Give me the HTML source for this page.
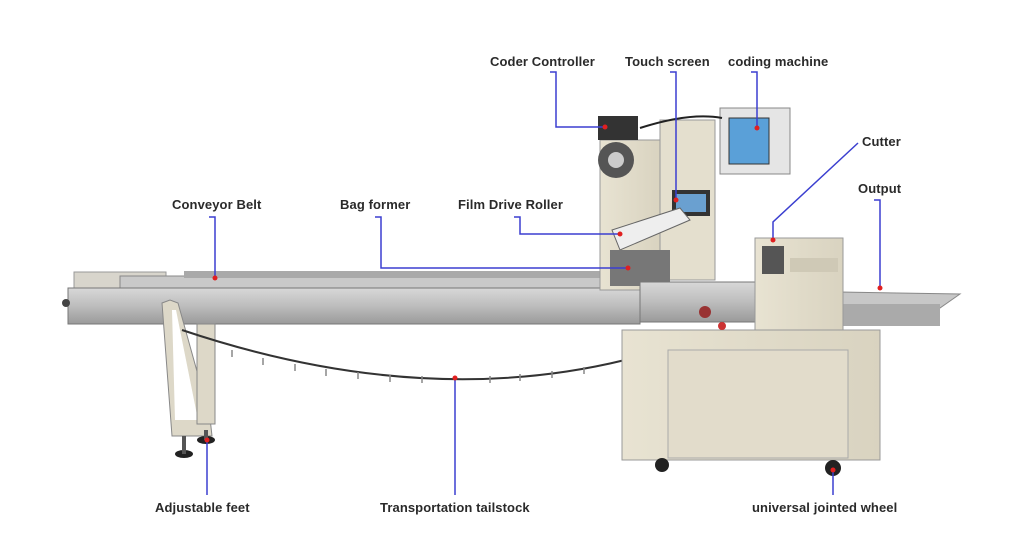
<!DOCTYPE html>
<html><head><meta charset="utf-8"><style>
body{margin:0;width:1024px;height:536px;background:#fff;overflow:hidden;position:relative;font-family:"Liberation Sans",sans-serif}
.t{position:absolute;font-size:13px;color:#2a2a2a;font-weight:bold;white-space:nowrap;letter-spacing:0.1px}
svg{position:absolute;left:0;top:0}
</style></head><body>
<svg width="1024" height="536" viewBox="0 0 1024 536">
<defs>
<linearGradient id="steel" x1="0" y1="0" x2="0" y2="1"><stop offset="0" stop-color="#d8d8d8"/><stop offset="0.5" stop-color="#bdbdbd"/><stop offset="1" stop-color="#9a9a9a"/></linearGradient>
<linearGradient id="beige" x1="0" y1="0" x2="1" y2="0"><stop offset="0" stop-color="#e8e3d2"/><stop offset="1" stop-color="#d9d3c0"/></linearGradient>
</defs>
<!-- left feed table -->
<rect x="74" y="272" width="92" height="18" fill="#d8d5cc" stroke="#999"/>
<!-- conveyor -->
<rect x="120" y="276" width="520" height="12" fill="#c9c9c9" stroke="#888"/>
<rect x="184" y="271" width="440" height="7" fill="#a9a9a9"/>
<rect x="68" y="288" width="572" height="36" fill="url(#steel)" stroke="#777"/>
<circle cx="66" cy="303" r="4" fill="#444"/>
<!-- legs -->
<polygon points="162,303 170,300 178,303 210,418 212,436 172,436" fill="#ddd8c8" stroke="#888"/>
<polygon points="172,310 176,310 198,420 175,420" fill="#fff"/>
<rect x="197" y="324" width="18" height="100" fill="#ddd8c8" stroke="#888"/>
<ellipse cx="184" cy="454" rx="9" ry="4" fill="#222"/><rect x="182" y="436" width="4" height="18" fill="#555"/>
<ellipse cx="206" cy="440" rx="9" ry="4" fill="#222"/><rect x="204" y="430" width="4" height="10" fill="#555"/>
<!-- chain -->
<path d="M182,330 Q420,410 625,360" fill="none" stroke="#333" stroke-width="2"/>
<g stroke="#888" stroke-width="1.5">
<line x1="232" y1="350" x2="232" y2="357"/><line x1="263" y1="358" x2="263" y2="365"/><line x1="295" y1="364" x2="295" y2="371"/><line x1="326" y1="369" x2="326" y2="376"/><line x1="358" y1="372" x2="358" y2="379"/><line x1="390" y1="375" x2="390" y2="382"/><line x1="422" y1="376" x2="422" y2="383"/><line x1="490" y1="376" x2="490" y2="383"/><line x1="520" y1="374" x2="520" y2="381"/><line x1="552" y1="371" x2="552" y2="378"/><line x1="584" y1="367" x2="584" y2="374"/>
</g>
<!-- column -->
<rect x="600" y="140" width="60" height="150" fill="url(#beige)" stroke="#999"/>
<rect x="660" y="120" width="55" height="160" fill="#e4dfce" stroke="#999"/>
<circle cx="616" cy="160" r="18" fill="#555"/><circle cx="616" cy="160" r="8" fill="#ccc"/>
<rect x="598" y="116" width="40" height="24" fill="#333"/>
<rect x="672" y="190" width="38" height="26" fill="#333"/><rect x="676" y="194" width="30" height="18" fill="#6aa0d0"/>
<polygon points="612,230 680,208 690,220 620,250" fill="#eee" stroke="#666"/>
<rect x="610" y="250" width="60" height="36" fill="#777"/>
<!-- coding machine -->
<rect x="720" y="108" width="70" height="66" fill="#e5e5e5" stroke="#888"/>
<rect x="729" y="118" width="40" height="46" fill="#5aa0d8" stroke="#333"/>
<path d="M640,128 Q690,112 722,118" fill="none" stroke="#222" stroke-width="2"/>
<!-- right section -->
<rect x="640" y="282" width="200" height="40" fill="url(#steel)" stroke="#777"/>
<polygon points="840,292 960,294 940,308 840,318" fill="#c7c7c7" stroke="#888"/>
<rect x="840" y="304" width="100" height="22" fill="#aaa"/>
<rect x="755" y="238" width="88" height="96" fill="url(#beige)" stroke="#999"/>
<rect x="762" y="246" width="22" height="28" fill="#555"/>
<rect x="790" y="258" width="48" height="14" fill="#cfc9b6"/>
<!-- cabinet -->
<rect x="622" y="330" width="258" height="130" fill="url(#beige)" stroke="#999"/>
<rect x="668" y="350" width="180" height="108" fill="#e2dccb" stroke="#aaa"/>
<circle cx="705" cy="312" r="6" fill="#933"/><circle cx="722" cy="326" r="4" fill="#c33"/>
<circle cx="662" cy="465" r="7" fill="#222"/><circle cx="833" cy="468" r="8" fill="#222"/>
<!-- leader lines -->
<g stroke="#3b3fd0" stroke-width="1.5" fill="none">
<polyline points="550,72 556,72 556,127 605,127"/>
<polyline points="670,72 676,72 676,200"/>
<polyline points="751,72 757,72 757,128"/>
<polyline points="858,143 773,222 773,240"/>
<polyline points="874,200 880,200 880,288"/>
<polyline points="209,217 215,217 215,278"/>
<polyline points="375,217 381,217 381,268 628,268"/>
<polyline points="514,217 520,217 520,234 620,234"/>
<polyline points="207,495 207,440"/>
<polyline points="455,495 455,378"/>
<polyline points="833,495 833,470"/>
</g>
<g fill="#e02020">
<circle cx="605" cy="127" r="2.5"/><circle cx="676" cy="200" r="2.5"/><circle cx="757" cy="128" r="2.5"/>
<circle cx="773" cy="240" r="2.5"/><circle cx="880" cy="288" r="2.5"/><circle cx="215" cy="278" r="2.5"/>
<circle cx="628" cy="268" r="2.5"/><circle cx="620" cy="234" r="2.5"/><circle cx="207" cy="440" r="2.5"/>
<circle cx="455" cy="378" r="2.5"/><circle cx="833" cy="470" r="2.5"/>
</g>
</svg>
<div class="t" style="left:490px;top:54px">Coder Controller</div>
<div class="t" style="left:625px;top:54px">Touch screen</div>
<div class="t" style="left:728px;top:54px">coding machine</div>
<div class="t" style="left:862px;top:134px">Cutter</div>
<div class="t" style="left:858px;top:181px">Output</div>
<div class="t" style="left:172px;top:197px">Conveyor Belt</div>
<div class="t" style="left:340px;top:197px">Bag former</div>
<div class="t" style="left:458px;top:197px">Film Drive Roller</div>
<div class="t" style="left:155px;top:500px">Adjustable feet</div>
<div class="t" style="left:380px;top:500px">Transportation tailstock</div>
<div class="t" style="left:752px;top:500px">universal jointed wheel</div>
</body></html>
